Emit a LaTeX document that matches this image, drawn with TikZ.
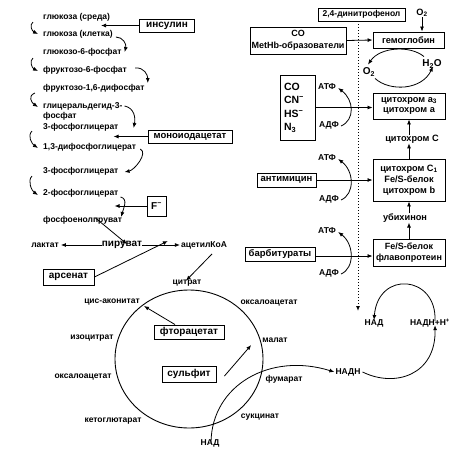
\documentclass[tikz,border=0pt]{standalone}
\usepackage{fontspec}
\setmainfont{Liberation Sans}
\usetikzlibrary{arrows.meta,shapes.geometric}
\begin{document}
\begin{tikzpicture}[x=1pt,y=-1pt,
  lbl/.style={font=\bfseries\fontsize{8.5}{10}\selectfont, inner sep=0pt},
  big/.style={font=\bfseries\fontsize{10}{12}\selectfont, inner sep=0pt},
  rlbl/.style={font=\bfseries\fontsize{9.2}{10.8}\selectfont, inner sep=0pt},
  box/.style={draw, line width=0.9pt, inner sep=0pt, align=center},
  arr/.style={-{Latex[length=5pt,width=4pt]}, line width=0.8pt},
  con/.style={line width=0.8pt}]
\useasboundingbox (0,0) rectangle (474,461);

% ---------- left column ----------
\node[lbl,anchor=west] (g1) at (43,17) {глюкоза (среда)};
\node[lbl,anchor=west] (g2) at (43,34) {глюкоза (клетка)};
\node[lbl,anchor=west] (g3) at (43,52) {глюкозо-6-фосфат};
\node[lbl,anchor=west] (g4) at (43,70) {фруктозо-6-фосфат};
\node[lbl,anchor=west] (g5) at (43,88) {фруктозо-1,6-дифосфат};
\node[lbl,anchor=west] (g6) at (43,106) {глицеральдегид-3-};
\node[lbl,anchor=west] (g6b) at (43,116) {фосфат};
\node[lbl,anchor=west] (g7) at (43,127) {3-фосфоглицерат};
\node[lbl,anchor=west] (g8) at (43,147) {1,3-дифосфоглицерат};
\node[lbl,anchor=west] (g9) at (43,171) {3-фосфоглицерат};
\node[lbl,anchor=west] (g10) at (43,193) {2-фосфоглицерат};
\node[lbl,anchor=west] (g11) at (43,220) {фосфоенолпруват};

\node[box,big,minimum width=55,minimum height=13] (ins) at (167,25.5) {инсулин};
\node[box,font=\bfseries\fontsize{9.5}{11}\selectfont,minimum width=84,minimum height=13] (mono) at (190,136.5) {моноиодацетат};
\node[box,big,minimum width=19,minimum height=20] (fm) at (156.5,206) {F\textsuperscript{−}};

% left small curved arrows
\draw[arr] ([shift={(-10,5)}]g1.west) .. controls +(-4,3) and +(-6,-3) .. ([shift={(-5,0)}]g2.west);
\draw[arr] ([shift={(-10,6)}]g3.west) .. controls +(-4,3) and +(-6,-3) .. ([shift={(-5,1)}]g4.west);
\draw[arr] ([shift={(-8,5)}]g5.west) .. controls +(-8,3) and +(-6,-4) .. ([shift={(-5,1)}]g6.west);
\draw[arr] ([shift={(-11,4)}]g7.west) .. controls +(-5,5) and +(-6,-4) .. ([shift={(-5,1)}]g8.west);
\draw[arr] ([shift={(-11,5)}]g9.west) .. controls +(-5,5) and +(-6,-4) .. ([shift={(-5,2)}]g10.west);

% right curved arrows
\draw[arr] ([shift={(3,3)}]g2.east) .. controls +(7,0) and +(2,-8) .. ([shift={(3,0)}]g3.east);
\draw[arr] ([shift={(8,-2)}]g4.east) .. controls +(9,-1) and +(0,-8) .. ([shift={(3,-5)}]g5.east);
\draw[arr] ([shift={(2,0)}]g6.east) .. controls +(10,2) and +(2,-10) .. ([shift={(15,1)}]g7.east);
\draw[arr] ([shift={(4,2)}]g8.east) .. controls +(8,4) and +(10,-2) .. ([shift={(6,1)}]g9.east);
\draw[arr] ([shift={(2,4)}]g10.east) .. controls +(8,2) and +(2,-8) .. ([shift={(-1,-3)}]g11.east);

% inhibitor arrows
\draw[arr] (ins.west) -- ([xshift=-38]ins.west);
\draw[arr] (mono.west) -- ([xshift=-34]mono.west);
\draw[arr] (fm.west) -- ([xshift=-32]fm.west);

% ---------- pyruvate ----------
\node[big] (pir) at (122,245) {пируват};
\node[lbl] (lac) at (45,245) {лактат};
\node[lbl] (acoa) at (204,245) {ацетилКоА};
\node[box,big,minimum width=51,minimum height=16] (ars) at (68.5,277) {арсенат};

\draw[arr] ([xshift=13,yshift=6]g11.south) -- ([xshift=5,yshift=-3]pir.north);
\draw[arr] (pir.west) -- ([xshift=2]lac.east);
\draw[arr] (pir.east) -- ([xshift=-1]acoa.west);
\draw[arr] (ars.east) -- ([xshift=-13,yshift=4]acoa.west);

% ---------- Krebs cycle ----------
\node[lbl] (cit) at (187,283) {цитрат};
\draw[arr] ([shift={(8,5)}]acoa.south) -- ([xshift=-1,yshift=-1]cit.north);
\node[draw,line width=0.9pt,ellipse,minimum width=148,minimum height=138,inner sep=0pt] (cyc) at (189,359) {};
\node[lbl] (cis) at (112,302) {цис-аконитат};
\node[lbl] (iso) at (92,338) {изоцитрат};
\node[lbl] (oxl) at (83,377) {оксалоацетат};
\node[lbl] (keto) at (113,421) {кетоглютарат};
\node[lbl] (succ) at (260,417) {сукцинат};
\node[lbl] (fum) at (284,379) {фумарат};
\node[lbl] (mal) at (275,340) {малат};
\node[lbl] (oxr) at (269,303) {оксалоацетат};
\node[box,big,minimum width=70,minimum height=14] (ftor) at (189,332) {фторацетат};
\node[box,big,minimum width=54,minimum height=16] (sulf) at (189,374) {сульфит};
\node[lbl] (nadb) at (210,443) {НАД};

\draw[arr] ([xshift=-14]ftor.north) -- ([shift={(4,4)}]cis.east);
\draw[arr] ([xshift=8,yshift=-2]sulf.east) -- ([shift={(-11,5)}]mal.west);

\node[lbl] (nadh) at (348,372) {НАДН};
\draw[arr] ([xshift=1,yshift=-3]nadb.north) .. controls (212,385) and (270,352) .. ([xshift=-1]nadh.west);

% ---------- right column ----------
\node[box,font=\bfseries\fontsize{8.5}{10}\selectfont,minimum width=87,minimum height=13] (dnp) at (361.5,14.5) {2,4-динитрофенол};
\coordinate (dotend) at (358,311);
\draw[dotted,line width=1pt,-{Latex[length=5pt,width=4pt]}] (dnp.south -| dotend) -- (dotend);

\node[rlbl] (o2t) at (422,13) {O\textsubscript{2}};
\node[box,rlbl,minimum width=71,minimum height=16] (hb) at (408.5,40) {гемоглобин};
\node[box,font=\bfseries\fontsize{9}{11.5}\selectfont,minimum width=96,minimum height=27] (co) at (298,40.5) {CO\\MetHb-образователи};
\draw[arr] (o2t.south) -- (hb.north -| o2t.south);
\draw[arr] (co.east) -- (hb.west);

\node[font=\bfseries\fontsize{10}{12}\selectfont,inner sep=0pt] (o2m) at (369,72) {O\textsubscript{2}};
\node[font=\bfseries\fontsize{10}{12}\selectfont,inner sep=0pt] (h2o) at (432,64) {H\textsubscript{2}O};
\draw[arr] ([shift={(-8,-3)}]h2o.north) .. controls (410,45) and (380,47) .. ([shift={(-1,-3)}]o2m.north);
\draw[arr] ([shift={(6,2)}]o2m.south) .. controls (390,92) and (422,90) .. ([xshift=1,yshift=2]h2o.south);

\node[box,minimum width=35,minimum height=65,align=left,font=\bfseries\fontsize{10.5}{13.5}\selectfont,inner sep=3pt] (cn) at (297.5,107.5)
  {\makebox[27pt][l]{CO}\\\makebox[27pt][l]{CN\textsuperscript{−}}\\\makebox[27pt][l]{HS\textsuperscript{−}}\\\makebox[27pt][l]{N\textsubscript{3}}};
\node[box,rlbl,minimum width=72,minimum height=26] (cyta) at (409,106) {цитохром а\textsubscript{3}\\цитохром а};
\node[rlbl] (cytc) at (412,139) {цитохром С};
\node[box,rlbl,minimum width=72,minimum height=42] (cytc1) at (409,180) {цитохром С\textsubscript{1}\\Fe/S-белок\\цитохром b};
\node[rlbl] (ubi) at (405,218) {убихинон};
\node[box,font=\bfseries\fontsize{9}{10.5}\selectfont,minimum width=72,minimum height=27] (fes) at (409,252.5) {Fe/S-белок\\флавопротеин};

\draw[arr] (cytc.north -| cyta.south) -- (cyta.south);
\draw[arr] (cytc1.north) -- (cytc.south -| cytc1.north);
\draw[arr] (ubi.north -| cytc1.south) -- (cytc1.south);
\draw[arr] (fes.north) -- (ubi.south -| fes.north);

\node[box,font=\bfseries\fontsize{9.5}{11}\selectfont,minimum width=59,minimum height=14] (anti) at (286.5,180) {антимицин};
\node[box,font=\bfseries\fontsize{9.5}{11}\selectfont,minimum width=70,minimum height=14] (barb) at (280,254) {барбитураты};

\draw[arr] (cn.east) -- (cn.east -| cyta.west);
\draw[arr] (anti.east) -- (cytc1.west);
\draw[arr] ([yshift=-2]barb.east) -- ([yshift=-2]barb.east -| fes.west);

\node[lbl] (atf1) at (327,87) {АТФ};
\node[lbl] (adf1) at (329,125) {АДФ};
\node[lbl] (atf2) at (327,158) {АТФ};
\node[lbl] (adf2) at (329,199) {АДФ};
\node[lbl] (atf3) at (327,231) {АТФ};
\node[lbl] (adf3) at (329,273) {АДФ};
\draw[arr] ([xshift=2,yshift=-1]adf1.east) .. controls +(14,-6) and +(16,12) .. ([xshift=2,yshift=-1]atf1.east);
\draw[arr] ([xshift=2,yshift=-1]adf2.east) .. controls +(14,-6) and +(16,12) .. ([xshift=2,yshift=-1]atf2.east);
\draw[arr] ([xshift=2,yshift=-1]adf3.east) .. controls +(14,-6) and +(16,12) .. ([xshift=2,yshift=-1]atf3.east);

\node[lbl] (nad1) at (374,323) {НАД};
\node[lbl] (nadhh) at (430,323) {НАДН+Н\textsuperscript{+}};
\draw[arr] ([xshift=5,yshift=-2]nadhh.north) .. controls (437,275) and (378,270) .. ([yshift=-1]nad1.north);
\draw[arr] ([xshift=2]nadh.east) .. controls (395,388) and (436,375) .. ([xshift=5,yshift=2]nadhh.south);
\end{tikzpicture}
\end{document}
